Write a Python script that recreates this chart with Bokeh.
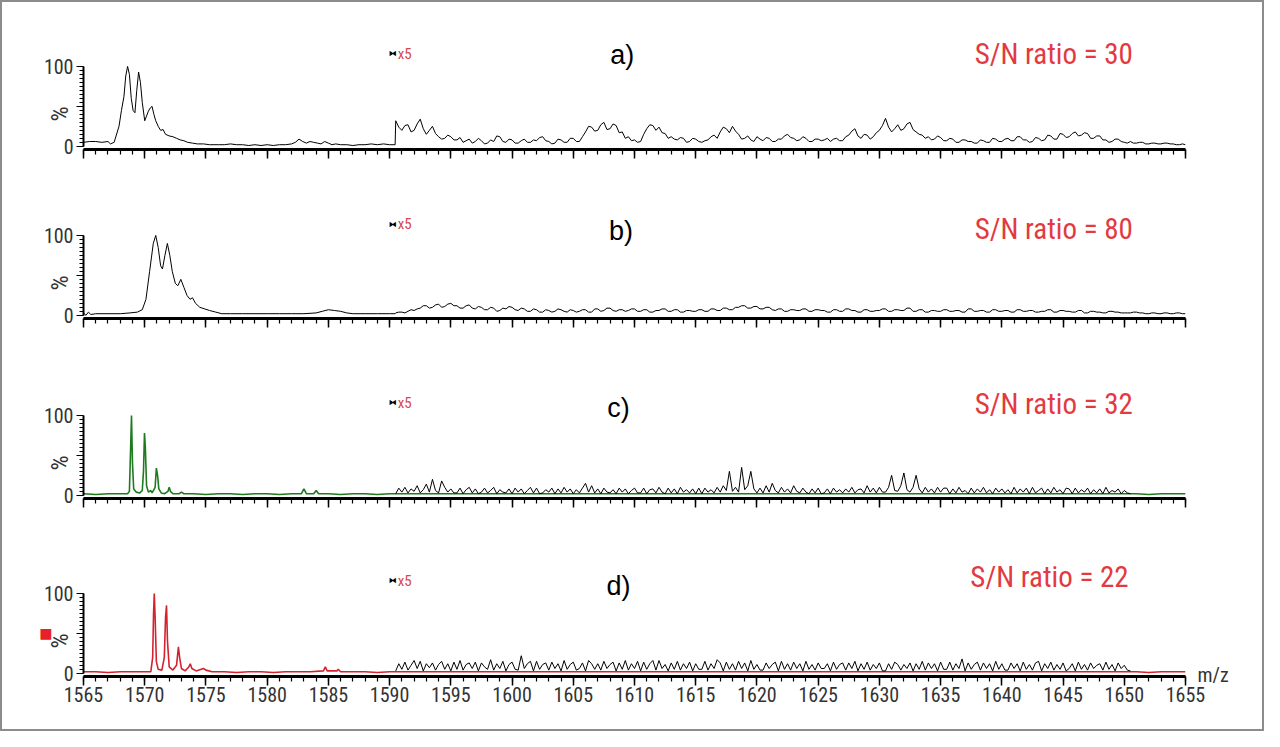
import math
from bokeh.plotting import figure
from bokeh.layouts import column
from bokeh.models import Range1d, Label, FixedTicker, LinearAxis
from bokeh.embed import file_html
from bokeh.resources import INLINE

# ---------------- data ----------------
mz_ticks = [1565, 1570, 1575, 1580, 1585, 1590, 1595, 1600, 1605, 1610, 1615,
            1620, 1625, 1630, 1635, 1640, 1645, 1650, 1655]
pct_ticks = [0, 50, 100]
panel_labels = ["a)", "b)", "c)", "d)"]
sn_labels = ["S/N ratio = 30", "S/N ratio = 80", "S/N ratio = 32", "S/N ratio = 22"]
y_title = "%"
x_title = "m/z"
zoom_label = "x5"
zoom_start = 1590.5   # m/z where the x5 magnified trace begins
zoom_step = 0.25      # sampling step of the magnified traces

# (m/z, %) at 1x, spectrum a, 1565 - 1590.5
a_low = [(1565.0, 5), (1565.5, 6), (1566.0, 6), (1566.5, 5), (1567.0, 6), (1567.2, 3),
         (1567.5, 5), (1567.9, 25), (1568.1, 45), (1568.3, 62), (1568.45, 88), (1568.6, 100),
         (1568.75, 90), (1568.9, 60), (1569.05, 45), (1569.2, 42), (1569.35, 70), (1569.5, 93),
         (1569.65, 80), (1569.8, 55), (1570.0, 32), (1570.15, 38), (1570.3, 44), (1570.45, 48),
         (1570.6, 50), (1570.75, 40), (1570.9, 32), (1571.1, 25), (1571.3, 20), (1571.5, 21),
         (1571.7, 15), (1572.0, 13), (1572.3, 12), (1572.6, 10), (1572.9, 8), (1573.2, 7),
         (1573.5, 5), (1573.9, 4), (1574.3, 3), (1574.8, 3), (1575.3, 2), (1576.0, 2),
         (1576.5, 2), (1577.0, 3), (1577.5, 2), (1578.0, 2), (1578.5, 1), (1579.0, 2),
         (1579.5, 1), (1580.0, 2), (1580.5, 1), (1581.0, 2), (1581.5, 2), (1582.0, 3),
         (1582.3, 5), (1582.6, 9), (1582.9, 6), (1583.2, 4), (1583.5, 6), (1583.8, 5),
         (1584.1, 4), (1584.4, 3), (1584.7, 6), (1585.0, 4), (1585.3, 2), (1585.6, 3),
         (1586.0, 2), (1586.5, 2), (1587.0, 1), (1587.5, 2), (1588.0, 2), (1588.5, 3),
         (1589.0, 2), (1589.5, 3), (1590.0, 2), (1590.45, 2)]
# x5 trace of a, 1590.5 - 1655 every 0.25 (one row = 5 m/z)
a_x5 = [32, 24, 20, 26, 27, 18, 20, 28, 34, 22, 15, 20, 25, 16, 12, 9, 10, 14, 12, 8,
        8, 11, 5, 7, 9, 4, 6, 10, 7, 3, 4, 8, 6, 13, 12, 6, 5, 9, 8, 4,
        4, 7, 9, 5, 5, 8, 7, 11, 12, 7, 6, 3, 4, 9, 8, 5, 5, 10, 10, 6,
        6, 12, 18, 25, 24, 19, 20, 27, 30, 21, 22, 28, 26, 17, 18, 10, 12, 7, 8, 5,
        6, 15, 22, 27, 26, 20, 24, 17, 16, 10, 12, 9, 8, 11, 10, 5, 6, 10, 9, 6,
        5, 7, 8, 12, 14, 10, 18, 24, 22, 17, 25, 19, 15, 9, 10, 13, 8, 6, 12, 9,
        7, 11, 10, 6, 6, 9, 9, 13, 15, 11, 10, 7, 8, 12, 10, 6, 6, 9, 9, 7,
        8, 10, 6, 9, 10, 7, 7, 12, 14, 19, 22, 13, 10, 15, 14, 9, 12, 17, 20, 26,
        35, 24, 18, 22, 27, 20, 22, 28, 30, 21, 18, 15, 14, 10, 12, 8, 9, 13, 11, 7,
        7, 10, 9, 5, 5, 8, 8, 6, 6, 4, 4, 8, 7, 5, 5, 10, 9, 6, 6, 9,
        10, 7, 7, 12, 12, 8, 8, 5, 6, 11, 10, 7, 8, 14, 13, 9, 9, 16, 15, 11,
        12, 16, 18, 13, 14, 17, 16, 10, 10, 13, 13, 8, 8, 5, 6, 9, 9, 6, 5, 4,
        6, 4, 4, 5, 5, 3, 3, 4, 4, 3, 3, 4, 4, 3, 3, 2, 2, 3, 2]

b_low = [(1565.0, 3), (1565.2, 0), (1565.4, 4), (1565.6, 1), (1566.0, 2), (1567.0, 2),
         (1568.0, 2), (1568.8, 3), (1569.4, 4), (1569.8, 7), (1570.1, 20), (1570.4, 55),
         (1570.7, 90), (1570.9, 100), (1571.1, 85), (1571.3, 62), (1571.45, 58), (1571.65, 75),
         (1571.85, 90), (1572.05, 75), (1572.25, 55), (1572.5, 40), (1572.7, 37), (1572.95, 45),
         (1573.2, 35), (1573.45, 25), (1573.7, 20), (1573.9, 22), (1574.15, 15), (1574.5, 10),
         (1574.9, 8), (1575.3, 6), (1575.8, 4), (1576.3, 2), (1577.0, 2), (1578.0, 2),
         (1579.0, 2), (1580.0, 2), (1581.0, 2), (1582.0, 2), (1583.0, 2), (1584.0, 3),
         (1584.5, 5), (1585.0, 7), (1585.5, 6), (1586.0, 5), (1586.5, 3), (1587.0, 2),
         (1588.0, 2), (1589.0, 2), (1590.0, 2), (1590.45, 2)]
b_x5 = [3, 4, 4, 3, 5, 7, 6, 8, 9, 12, 12, 9, 10, 13, 14, 10, 11, 14, 15, 12,
        12, 9, 9, 12, 13, 9, 8, 11, 10, 7, 7, 10, 9, 5, 6, 9, 8, 11, 10, 7,
        6, 9, 8, 5, 5, 8, 7, 4, 4, 7, 6, 4, 5, 8, 7, 5, 4, 7, 6, 4,
        5, 7, 7, 4, 4, 8, 8, 5, 6, 9, 9, 6, 5, 7, 7, 5, 6, 8, 8, 5,
        5, 7, 7, 4, 4, 6, 6, 8, 8, 5, 5, 7, 7, 4, 4, 6, 6, 5, 5, 7,
        7, 5, 5, 8, 8, 6, 6, 9, 9, 7, 7, 10, 10, 12, 12, 9, 9, 11, 11, 8,
        8, 10, 10, 7, 6, 8, 8, 5, 5, 7, 7, 6, 6, 8, 8, 5, 5, 7, 7, 6,
        6, 4, 4, 7, 7, 5, 5, 8, 8, 6, 6, 4, 4, 7, 7, 5, 5, 6, 6, 8,
        8, 5, 5, 7, 7, 6, 6, 9, 9, 5, 5, 7, 7, 4, 4, 6, 6, 5, 5, 7,
        7, 5, 5, 6, 6, 4, 4, 8, 8, 5, 5, 6, 6, 4, 4, 7, 7, 5, 5, 6,
        6, 4, 4, 7, 7, 5, 5, 6, 6, 4, 4, 5, 5, 7, 7, 4, 4, 6, 6, 5,
        5, 4, 4, 6, 6, 3, 3, 5, 5, 4, 4, 3, 3, 5, 5, 4, 4, 3, 3, 3,
        3, 4, 4, 3, 3, 2, 2, 3, 3, 2, 2, 3, 3, 2, 2, 3, 3, 2, 2]

c_full = [(1565.0, 2), (1566.0, 1), (1567.0, 2), (1568.0, 2), (1568.6, 2), (1568.75, 5),
          (1568.85, 60), (1568.92, 100), (1569.0, 40), (1569.1, 8), (1569.3, 4), (1569.6, 3),
          (1569.8, 6), (1569.9, 30), (1569.98, 78), (1570.05, 60), (1570.15, 12), (1570.3, 4),
          (1570.5, 6), (1570.6, 3), (1570.85, 10), (1570.95, 34), (1571.05, 25), (1571.15, 8),
          (1571.35, 3), (1571.6, 2), (1571.9, 5), (1572.0, 10), (1572.1, 5), (1572.3, 2),
          (1572.8, 2), (1573.0, 4), (1573.2, 2), (1574.0, 2), (1575.0, 1), (1576.0, 2),
          (1577.0, 2), (1578.0, 1), (1579.0, 2), (1580.0, 2), (1581.0, 1), (1582.0, 2),
          (1582.8, 2), (1583.0, 8), (1583.2, 2), (1583.8, 2), (1584.0, 6), (1584.2, 2),
          (1585.0, 2), (1586.0, 1), (1587.0, 2), (1588.0, 2), (1589.0, 1), (1590.0, 2),
          (1600.0, 2), (1610.0, 2), (1620.0, 2), (1630.0, 2), (1640.0, 2), (1650.0, 2),
          (1651.0, 2), (1652.0, 1), (1653.0, 2), (1654.0, 2), (1655.0, 2)]
# x5 trace of c, 1590.5 - 1650.5 every 0.25
c_x5 = [2, 9, 4, 10, 3, 8, 5, 12, 3, 7, 14, 4, 20, 6, 3, 18, 10, 4, 8, 3,
        3, 9, 2, 7, 10, 3, 8, 2, 4, 9, 3, 6, 10, 2, 7, 4, 3, 8, 2, 9,
        4, 8, 2, 6, 10, 3, 9, 2, 3, 7, 4, 9, 2, 8, 3, 10, 4, 8, 2, 7,
        3, 9, 15, 4, 12, 3, 8, 2, 9, 4, 3, 7, 2, 9, 4, 8, 2, 6, 9, 3,
        3, 9, 2, 7, 8, 3, 10, 4, 2, 9, 3, 8, 2, 10, 4, 7, 3, 8, 2, 9,
        2, 9, 4, 7, 3, 10, 4, 12, 6, 30, 5, 10, 4, 35, 7, 12, 30, 8, 3, 9,
        3, 12, 4, 15, 6, 3, 10, 4, 8, 3, 12, 5, 3, 9, 4, 2, 8, 3, 9, 2,
        3, 8, 2, 9, 4, 7, 3, 8, 4, 10, 3, 7, 8, 3, 12, 4, 9, 3, 10, 4,
        4, 10, 25, 6, 5, 12, 28, 7, 4, 10, 25, 8, 3, 10, 4, 8, 3, 10, 4, 9,
        9, 2, 8, 3, 10, 4, 6, 2, 9, 3, 8, 4, 10, 3, 7, 2, 9, 4, 8, 3,
        7, 2, 10, 3, 8, 4, 9, 2, 10, 3, 6, 9, 2, 8, 3, 10, 4, 7, 2, 9,
        8, 2, 9, 3, 7, 4, 9, 2, 7, 3, 8, 2, 10, 3, 6, 4, 8, 2, 6, 3,
        2]

d_full = [(1565.0, 2), (1566.0, 2), (1567.0, 1), (1568.0, 2), (1569.0, 2), (1570.0, 2),
          (1570.5, 2), (1570.65, 20), (1570.72, 75), (1570.78, 100), (1570.85, 70),
          (1570.95, 15), (1571.1, 5), (1571.4, 4), (1571.6, 20), (1571.7, 70), (1571.78, 85),
          (1571.86, 40), (1572.0, 8), (1572.3, 4), (1572.6, 10), (1572.75, 33), (1572.85, 20),
          (1573.0, 6), (1573.3, 3), (1573.6, 8), (1573.72, 12), (1573.85, 6), (1574.2, 3),
          (1574.8, 6), (1575.0, 4), (1575.5, 2), (1576.5, 2), (1577.5, 1), (1578.5, 2),
          (1579.5, 2), (1580.5, 1), (1581.5, 2), (1582.5, 2), (1583.5, 2), (1584.6, 3),
          (1584.75, 8), (1584.9, 3), (1585.7, 3), (1585.8, 5), (1586.0, 2), (1587.0, 2),
          (1588.0, 2), (1589.0, 1), (1590.0, 2), (1600.0, 2), (1610.0, 2), (1620.0, 2),
          (1630.0, 2), (1640.0, 2), (1650.0, 2), (1651.0, 2), (1652.0, 1), (1653.0, 2),
          (1654.0, 2), (1655.0, 2)]
# x5 trace of d, 1590.5 - 1650.5 every 0.25
d_x5 = [3, 12, 5, 14, 4, 10, 16, 6, 15, 3, 12, 7, 13, 4, 11, 15, 5, 12, 3, 14,
        5, 16, 4, 11, 13, 6, 14, 3, 13, 8, 5, 17, 4, 12, 6, 15, 3, 11, 14, 5,
        4, 22, 6, 12, 15, 3, 15, 5, 11, 13, 4, 14, 6, 12, 3, 16, 5, 11, 14, 4,
        6, 13, 3, 16, 12, 5, 12, 4, 15, 6, 11, 14, 3, 13, 5, 16, 4, 12, 6, 15,
        3, 14, 5, 12, 16, 4, 16, 6, 11, 3, 13, 5, 15, 4, 12, 6, 14, 3, 12, 5,
        5, 15, 4, 12, 6, 17, 13, 3, 14, 5, 12, 4, 15, 6, 13, 3, 16, 5, 11, 4,
        4, 13, 6, 11, 14, 3, 15, 5, 12, 4, 14, 6, 12, 3, 15, 5, 11, 4, 13, 6,
        6, 12, 3, 14, 5, 11, 13, 4, 13, 6, 15, 3, 12, 5, 14, 4, 11, 6, 13, 3,
        3, 12, 5, 14, 11, 4, 11, 6, 13, 3, 12, 5, 15, 4, 13, 6, 12, 3, 14, 5,
        5, 14, 4, 12, 6, 18, 3, 13, 5, 11, 14, 4, 13, 6, 12, 3, 15, 5, 12, 4,
        4, 13, 6, 12, 3, 14, 5, 11, 4, 13, 15, 3, 12, 6, 14, 4, 11, 5, 13, 3,
        6, 12, 3, 14, 5, 11, 4, 13, 6, 10, 12, 4, 14, 5, 11, 3, 13, 6, 10, 4,
        3]

# ---------------- styling ----------------
NARROW = "Roboto Condensed, DejaVu Sans Condensed, Liberation Sans Narrow, Arial Narrow, Roboto, sans-serif"
RED_TXT = "#e23a3f"
GREEN = "#1f7a1f"
RED = "#d4232f"
AX_TXT = "#333333"


def x5_mz(n):
    return [zoom_start + zoom_step * i for i in range(n)]


def text_axis(tick, text, color, size, font, standoff, orientation="horizontal"):
    """An axis with no line or ticks whose single tick label is a text."""
    return LinearAxis(ticker=FixedTicker(ticks=[tick]), major_label_overrides={tick: text},
                      major_label_orientation=orientation, major_label_standoff=standoff,
                      major_label_text_font=font, major_label_text_font_size=size,
                      major_label_text_color=color, axis_line_color=None,
                      major_tick_line_color=None, minor_tick_line_color=None)


panels = [
    dict(base=a_low, x5=a_x5, color="black", overlay=False),
    dict(base=b_low, x5=b_x5, color="black", overlay=False),
    dict(base=c_full, x5=c_x5, color=GREEN, overlay=True),
    dict(base=d_full, x5=d_x5, color=RED, overlay=True),
]
border_top = [32, 34, 40, 38]
border_bottom = [20, 25, 25, 53]
label_y = [114, 105, 109, 109]
sn_y = [115, 107.5, 114, 121]
x5_y = [116, 114, 116, 116]
label_x = [1609.0, 1608.9, 1608.7, 1608.7]
sn_x = [1650.7, 1650.7, 1650.7, 1650.35]

figs = []
for i, pd_ in enumerate(panels):
    last = i == 3
    p = figure(frame_width=1102, frame_height=115,
               min_border_left=81, min_border_right=77,
               min_border_top=border_top[i], min_border_bottom=border_bottom[i],
               x_range=Range1d(1565, 1655), y_range=Range1d(-4, 140),
               output_backend="svg", toolbar_location=None,
               background_fill_color="white", border_fill_color="white")
    p.outline_line_color = None
    p.grid.visible = False

    bx = [t[0] for t in pd_["base"]]
    by = [t[1] for t in pd_["base"]]
    if pd_["overlay"]:
        p.line(bx, by, line_color=pd_["color"], line_width=1.6)
        p.line(x5_mz(len(pd_["x5"])), pd_["x5"], line_color="black", line_width=1.0)
    else:
        p.line(bx + x5_mz(len(pd_["x5"])), by + pd_["x5"], line_color="black", line_width=1.0)

    # x axis
    xa = p.xaxis[0]
    xa.ticker = FixedTicker(ticks=mz_ticks, minor_ticks=list(range(1565, 1656)))
    xa.axis_line_width = 3
    xa.major_tick_out = 9
    xa.major_tick_in = 0
    xa.minor_tick_out = 5
    xa.minor_tick_in = 0
    xa.major_tick_line_width = 1.5
    xa.minor_tick_line_width = 1.2
    xa.major_label_standoff = 1
    xa.major_label_text_font = NARROW
    xa.major_label_text_font_size = "20px"
    xa.major_label_text_color = AX_TXT if last else None

    # y axis
    ya = p.yaxis[0]
    ya.bounds = (0, 100)
    ya.ticker = FixedTicker(ticks=pct_ticks, minor_ticks=list(range(0, 101, 5)))
    ya.major_label_overrides = {50: ""}
    ya.axis_line_width = 2
    ya.major_tick_out = 7
    ya.major_tick_in = 0
    ya.minor_tick_out = 4
    ya.minor_tick_in = 0
    ya.major_label_standoff = 3
    ya.major_label_text_font = NARROW
    ya.major_label_text_font_size = "20px"
    ya.major_label_text_color = AX_TXT

    # "%" title of the y axis, centred on 50
    p.add_layout(text_axis(50, y_title, AX_TXT, "24px", NARROW, -25, math.pi / 2), "left")

    p.add_layout(Label(x=label_x[i], y=label_y[i], text=panel_labels[i],
                       text_align="center", text_baseline="middle",
                       text_font="Liberation Sans", text_font_size="27px", text_color="black"))
    p.add_layout(Label(x=sn_x[i], y=sn_y[i], text=sn_labels[i],
                       text_align="right", text_baseline="middle",
                       text_font=NARROW, text_font_size="29px", text_color=RED_TXT))
    p.add_layout(Label(x=zoom_start, y=x5_y[i], x_offset=-3, text="\u29d3",
                       text_align="center", text_baseline="middle",
                       text_font="DejaVu Sans", text_font_size="8px", text_color="black"))
    p.add_layout(Label(x=zoom_start, y=x5_y[i], x_offset=2, text=zoom_label,
                       text_align="left", text_baseline="middle",
                       text_font=NARROW, text_font_size="15px", text_color="#d9474c"))
    if last:
        p.add_layout(text_axis(-2, x_title, AX_TXT, "20px", NARROW, 6), "right")
        p.add_layout(text_axis(50, "\u25a0", "#e8202a", "14px", "DejaVu Sans", -30), "left")
    figs.append(p)

layout = column(*figs, spacing=0,
                styles={"border": "2px solid #8c8c8c", "background-color": "white"})

open("out.html", "w").write(file_html(layout, INLINE))
